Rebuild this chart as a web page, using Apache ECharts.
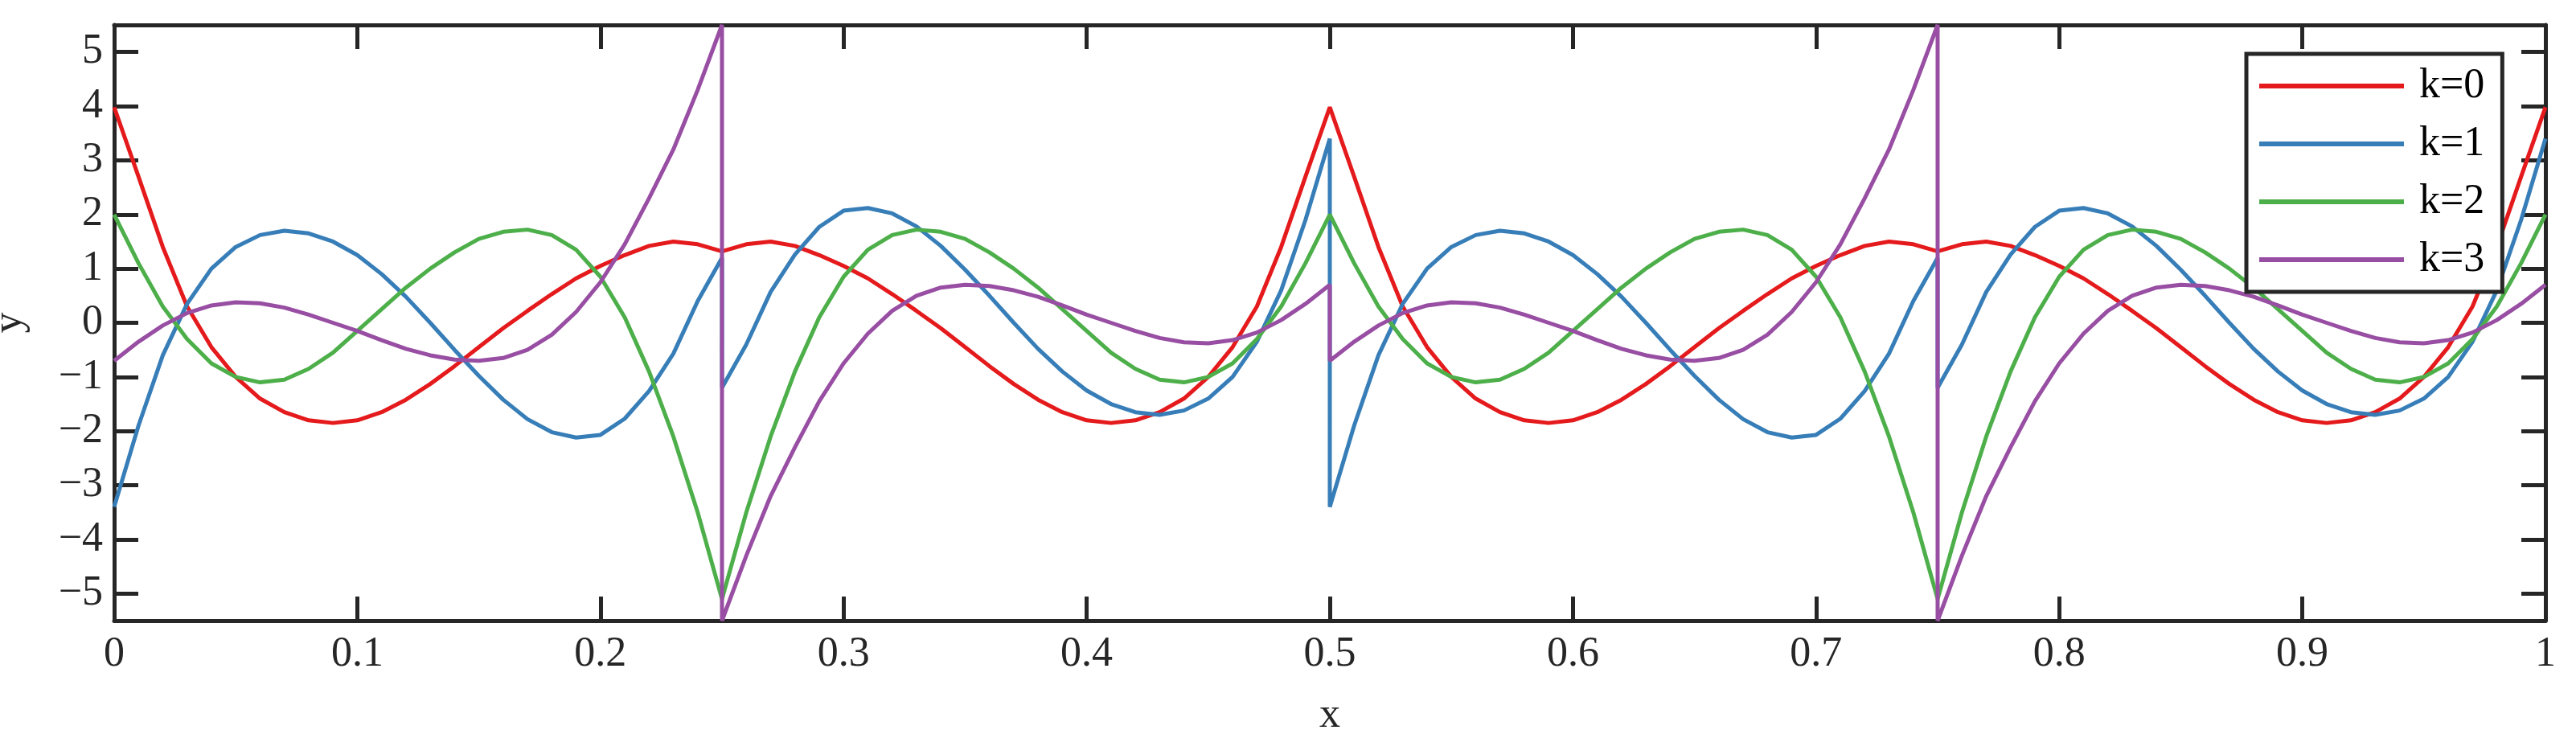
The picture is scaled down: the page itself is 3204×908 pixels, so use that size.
<!DOCTYPE html>
<html>
<head>
<meta charset="utf-8">
<script src="https://cdn.jsdelivr.net/npm/echarts@6/dist/echarts.min.js"></script>
<style>html,body{margin:0;padding:0;background:#fff}#container{width:3204px;height:908px}</style>
</head>
<body>
<div id="container"></div>
<script>
// x positions, with the jump points 0.25, 0.5, 0.75 repeated
const xs = [0,0.01,0.02,0.03,0.04,0.05,0.06,0.07,0.08,0.09,0.1,0.11,0.12,0.13,0.14,0.15,0.16,0.17,0.18,0.19,0.2,0.21,0.22,0.23,0.24,0.25,
  0.25,0.26,0.27,0.28,0.29,0.3,0.31,0.32,0.33,0.34,0.35,0.36,0.37,0.38,0.39,0.4,0.41,0.42,0.43,0.44,0.45,0.46,0.47,0.48,0.49,0.5,
  0.5,0.51,0.52,0.53,0.54,0.55,0.56,0.57,0.58,0.59,0.6,0.61,0.62,0.63,0.64,0.65,0.66,0.67,0.68,0.69,0.7,0.71,0.72,0.73,0.74,0.75,
  0.75,0.76,0.77,0.78,0.79,0.8,0.81,0.82,0.83,0.84,0.85,0.86,0.87,0.88,0.89,0.9,0.91,0.92,0.93,0.94,0.95,0.96,0.97,0.98,0.99,1];

const k0 = [3.98,2.7,1.4,0.3,-0.45,-1.0,-1.4,-1.65,-1.8,-1.85,-1.8,-1.65,-1.42,-1.13,-0.8,-0.45,-0.1,0.22,0.53,0.82,1.05,1.25,1.42,1.5,1.45,1.32,
  1.32,1.45,1.5,1.42,1.25,1.05,0.82,0.53,0.22,-0.1,-0.45,-0.8,-1.13,-1.42,-1.65,-1.8,-1.85,-1.8,-1.65,-1.4,-1.0,-0.45,0.3,1.4,2.7,3.98,
  3.98,2.7,1.4,0.3,-0.45,-1.0,-1.4,-1.65,-1.8,-1.85,-1.8,-1.65,-1.42,-1.13,-0.8,-0.45,-0.1,0.22,0.53,0.82,1.05,1.25,1.42,1.5,1.45,1.32,
  1.32,1.45,1.5,1.42,1.25,1.05,0.82,0.53,0.22,-0.1,-0.45,-0.8,-1.13,-1.42,-1.65,-1.8,-1.85,-1.8,-1.65,-1.4,-1.0,-0.45,0.3,1.4,2.7,3.98];

const k1 = [-3.4,-1.9,-0.6,0.35,1.0,1.4,1.62,1.7,1.65,1.5,1.25,0.9,0.48,0.0,-0.5,-0.98,-1.42,-1.78,-2.02,-2.12,-2.07,-1.77,-1.26,-0.57,0.4,1.2,
  -1.2,-0.4,0.57,1.26,1.77,2.07,2.12,2.02,1.78,1.42,0.98,0.5,0.0,-0.48,-0.9,-1.25,-1.5,-1.65,-1.7,-1.62,-1.4,-1.0,-0.35,0.6,1.9,3.4,
  -3.4,-1.9,-0.6,0.35,1.0,1.4,1.62,1.7,1.65,1.5,1.25,0.9,0.48,0.0,-0.5,-0.98,-1.42,-1.78,-2.02,-2.12,-2.07,-1.77,-1.26,-0.57,0.4,1.2,
  -1.2,-0.4,0.57,1.26,1.77,2.07,2.12,2.02,1.78,1.42,0.98,0.5,0.0,-0.48,-0.9,-1.25,-1.5,-1.65,-1.7,-1.62,-1.4,-1.0,-0.35,0.6,1.9,3.4];

const k2 = [2.0,1.1,0.3,-0.3,-0.75,-1.0,-1.1,-1.05,-0.85,-0.55,-0.15,0.25,0.65,1.0,1.3,1.55,1.68,1.72,1.62,1.35,0.85,0.1,-0.9,-2.1,-3.5,-5.1,
  -5.1,-3.5,-2.1,-0.9,0.1,0.85,1.35,1.62,1.72,1.68,1.55,1.3,1.0,0.65,0.25,-0.15,-0.55,-0.85,-1.05,-1.1,-1.0,-0.75,-0.3,0.3,1.1,2.0,
  2.0,1.1,0.3,-0.3,-0.75,-1.0,-1.1,-1.05,-0.85,-0.55,-0.15,0.25,0.65,1.0,1.3,1.55,1.68,1.72,1.62,1.35,0.85,0.1,-0.9,-2.1,-3.5,-5.1,
  -5.1,-3.5,-2.1,-0.9,0.1,0.85,1.35,1.62,1.72,1.68,1.55,1.3,1.0,0.65,0.25,-0.15,-0.55,-0.85,-1.05,-1.1,-1.0,-0.75,-0.3,0.3,1.1,2.0];

const k3 = [-0.7,-0.35,-0.05,0.18,0.32,0.38,0.36,0.28,0.15,0.0,-0.15,-0.32,-0.48,-0.6,-0.68,-0.7,-0.65,-0.5,-0.22,0.2,0.75,1.45,2.3,3.2,4.3,5.5,
  -5.5,-4.3,-3.2,-2.3,-1.45,-0.75,-0.2,0.22,0.5,0.65,0.7,0.68,0.6,0.48,0.32,0.15,0.0,-0.15,-0.28,-0.36,-0.38,-0.32,-0.18,0.05,0.35,0.7,
  -0.7,-0.35,-0.05,0.18,0.32,0.38,0.36,0.28,0.15,0.0,-0.15,-0.32,-0.48,-0.6,-0.68,-0.7,-0.65,-0.5,-0.22,0.2,0.75,1.45,2.3,3.2,4.3,5.5,
  -5.5,-4.3,-3.2,-2.3,-1.45,-0.75,-0.2,0.22,0.5,0.65,0.7,0.68,0.6,0.48,0.32,0.15,0.0,-0.15,-0.28,-0.36,-0.38,-0.32,-0.18,0.05,0.35,0.7];

const names = ['k=0', 'k=1', 'k=2', 'k=3'];
const colors = ['#e41a1c', '#377eb8', '#4daf4a', '#984ea3'];
const yTicks = [-5,-4,-3,-2,-1,0,1,2,3,4,5];

const font = 'Liberation Serif';
const ink = '#262626';
const minus = v => String(v).replace('-', '\u2212');

const tick = { show: true, inside: true, length: 30, lineStyle: { color: ink, width: 5 } };
const line = { show: true, onZero: false, lineStyle: { color: ink, width: 5 } };

const chart = echarts.init(document.getElementById('container'), null, { renderer: 'canvas' });

chart.setOption({
    animation: false,
    grid: { left: 142, right: 38, top: 31, bottom: 136, outerBoundsMode: 'none', containLabel: false },
    legend: {
        orient: 'vertical', left: 2794, top: 67,
        itemWidth: 180, itemHeight: 6, itemGap: 20,
        padding: [14, 22, 14, 16],
        borderColor: ink, borderWidth: 5, backgroundColor: '#fff',
        icon: 'rect',
        textStyle: { fontFamily: font, fontSize: 52, color: '#000', padding: [0, 0, 0, 14] },
        data: names
    },
    xAxis: [
        {
            type: 'value', min: 0, max: 1, interval: 0.1,
            name: 'x', nameLocation: 'middle', nameGap: 92,
            nameTextStyle: { fontFamily: font, fontSize: 52, color: ink },
            axisLine: line, axisTick: tick, splitLine: { show: false },
            axisLabel: { fontFamily: font, fontSize: 52, color: ink, margin: 16 }
        },
        {
            type: 'value', min: 0, max: 1, interval: 0.1, position: 'top',
            axisLine: line, axisTick: tick, splitLine: { show: false }, axisLabel: { show: false }
        }
    ],
    yAxis: [
        {
            type: 'value', min: -5.5, max: 5.5,
            name: 'y', nameLocation: 'middle', nameGap: 104, nameRotate: 90,
            nameTextStyle: { fontFamily: font, fontSize: 52, color: ink },
            axisLine: line, splitLine: { show: false },
            axisTick: Object.assign({ customValues: yTicks }, tick),
            axisLabel: { customValues: yTicks, formatter: minus, fontFamily: font, fontSize: 52, color: ink, margin: 14 }
        },
        {
            type: 'value', min: -5.5, max: 5.5, position: 'right',
            axisLine: line, splitLine: { show: false },
            axisTick: Object.assign({ customValues: yTicks }, tick),
            axisLabel: { show: false }
        }
    ],
    series: [k0, k1, k2, k3].map((ys, i) => ({
        name: names[i],
        type: 'line',
        showSymbol: false,
        symbol: 'none',
        clip: true,
        color: colors[i],
        lineStyle: { color: colors[i], width: 5 },
        data: xs.map((x, j) => [x, ys[j]])
    }))
});

window.addEventListener('resize', () => chart.resize());
</script>
</body>
</html>
